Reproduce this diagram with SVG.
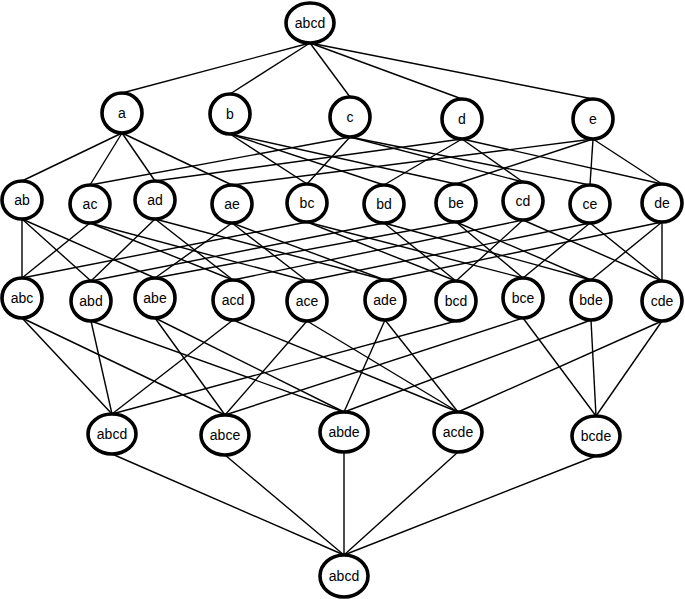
<svg xmlns="http://www.w3.org/2000/svg" width="685" height="599" viewBox="0 0 685 599">
<style>
.n ellipse{fill:#fff;stroke:#000;stroke-width:3.6}
.n text{font-family:"Liberation Sans",Arial,sans-serif;font-size:14px;fill:#000;text-anchor:middle}
#edges line{stroke:#000;stroke-width:1.4}
</style>
<rect width="685" height="599" fill="#fff"/>
<g id="edges">
<line x1="310" y1="43" x2="122" y2="93"/>
<line x1="310" y1="43" x2="230" y2="94"/>
<line x1="310" y1="43" x2="350" y2="97"/>
<line x1="310" y1="43" x2="462" y2="99"/>
<line x1="310" y1="43" x2="593" y2="99"/>
<line x1="122" y1="133" x2="22" y2="181"/>
<line x1="122" y1="133" x2="90" y2="185"/>
<line x1="122" y1="133" x2="155" y2="181"/>
<line x1="122" y1="133" x2="232" y2="185"/>
<line x1="230" y1="134" x2="307" y2="184"/>
<line x1="230" y1="134" x2="384" y2="185"/>
<line x1="230" y1="134" x2="456" y2="184"/>
<line x1="350" y1="137" x2="90" y2="185"/>
<line x1="350" y1="137" x2="307" y2="184"/>
<line x1="350" y1="137" x2="523" y2="182"/>
<line x1="350" y1="137" x2="590" y2="185"/>
<line x1="462" y1="139" x2="155" y2="181"/>
<line x1="462" y1="139" x2="384" y2="185"/>
<line x1="462" y1="139" x2="523" y2="182"/>
<line x1="462" y1="139" x2="662" y2="184"/>
<line x1="593" y1="139" x2="232" y2="185"/>
<line x1="593" y1="139" x2="456" y2="184"/>
<line x1="593" y1="139" x2="590" y2="185"/>
<line x1="593" y1="139" x2="662" y2="184"/>
<line x1="22" y1="219" x2="22" y2="278"/>
<line x1="22" y1="219" x2="91" y2="281"/>
<line x1="22" y1="219" x2="155" y2="278"/>
<line x1="90" y1="223" x2="22" y2="278"/>
<line x1="90" y1="223" x2="233" y2="280"/>
<line x1="90" y1="223" x2="307" y2="281"/>
<line x1="155" y1="219" x2="91" y2="281"/>
<line x1="155" y1="219" x2="233" y2="280"/>
<line x1="155" y1="219" x2="385" y2="280"/>
<line x1="232" y1="223" x2="155" y2="278"/>
<line x1="232" y1="223" x2="307" y2="281"/>
<line x1="232" y1="223" x2="385" y2="280"/>
<line x1="307" y1="222" x2="22" y2="278"/>
<line x1="307" y1="222" x2="456" y2="281"/>
<line x1="307" y1="222" x2="523" y2="278"/>
<line x1="384" y1="223" x2="91" y2="281"/>
<line x1="384" y1="223" x2="456" y2="281"/>
<line x1="384" y1="223" x2="591" y2="280"/>
<line x1="456" y1="222" x2="155" y2="278"/>
<line x1="456" y1="222" x2="523" y2="278"/>
<line x1="456" y1="222" x2="591" y2="280"/>
<line x1="523" y1="220" x2="233" y2="280"/>
<line x1="523" y1="220" x2="456" y2="281"/>
<line x1="523" y1="220" x2="662" y2="281"/>
<line x1="590" y1="223" x2="307" y2="281"/>
<line x1="590" y1="223" x2="523" y2="278"/>
<line x1="590" y1="223" x2="662" y2="281"/>
<line x1="662" y1="222" x2="385" y2="280"/>
<line x1="662" y1="222" x2="591" y2="280"/>
<line x1="662" y1="222" x2="662" y2="281"/>
<line x1="22" y1="318" x2="112" y2="414"/>
<line x1="22" y1="318" x2="225" y2="415"/>
<line x1="91" y1="321" x2="112" y2="414"/>
<line x1="91" y1="321" x2="344" y2="412"/>
<line x1="155" y1="318" x2="225" y2="415"/>
<line x1="155" y1="318" x2="344" y2="412"/>
<line x1="233" y1="320" x2="112" y2="414"/>
<line x1="233" y1="320" x2="458" y2="412"/>
<line x1="307" y1="321" x2="225" y2="415"/>
<line x1="307" y1="321" x2="458" y2="412"/>
<line x1="385" y1="320" x2="344" y2="412"/>
<line x1="385" y1="320" x2="458" y2="412"/>
<line x1="456" y1="321" x2="112" y2="414"/>
<line x1="523" y1="318" x2="225" y2="415"/>
<line x1="523" y1="318" x2="596" y2="416"/>
<line x1="591" y1="320" x2="344" y2="412"/>
<line x1="591" y1="320" x2="596" y2="416"/>
<line x1="662" y1="321" x2="458" y2="412"/>
<line x1="662" y1="321" x2="596" y2="416"/>
<line x1="112" y1="454" x2="344" y2="555"/>
<line x1="225" y1="455" x2="344" y2="555"/>
<line x1="344" y1="452" x2="344" y2="555"/>
<line x1="458" y1="452" x2="344" y2="555"/>
<line x1="596" y1="456" x2="344" y2="555"/>
</g>
<g id="n-top" class="n"><ellipse cx="310" cy="23" rx="24" ry="20"/><text x="310" y="28">abcd</text></g>
<g id="n-a" class="n"><ellipse cx="122" cy="113" rx="20" ry="20"/><text x="122" y="118">a</text></g>
<g id="n-b" class="n"><ellipse cx="230" cy="114" rx="20" ry="20"/><text x="230" y="119">b</text></g>
<g id="n-c" class="n"><ellipse cx="350" cy="117" rx="20" ry="20"/><text x="350" y="122">c</text></g>
<g id="n-d" class="n"><ellipse cx="462" cy="119" rx="20" ry="20"/><text x="462" y="124">d</text></g>
<g id="n-e" class="n"><ellipse cx="593" cy="119" rx="20" ry="20"/><text x="593" y="124">e</text></g>
<g id="n-ab" class="n"><ellipse cx="22" cy="200" rx="20" ry="19"/><text x="22" y="205">ab</text></g>
<g id="n-ac" class="n"><ellipse cx="90" cy="204" rx="20" ry="19"/><text x="90" y="209">ac</text></g>
<g id="n-ad" class="n"><ellipse cx="155" cy="200" rx="20" ry="19"/><text x="155" y="205">ad</text></g>
<g id="n-ae" class="n"><ellipse cx="232" cy="204" rx="20" ry="19"/><text x="232" y="209">ae</text></g>
<g id="n-bc" class="n"><ellipse cx="307" cy="203" rx="20" ry="19"/><text x="307" y="208">bc</text></g>
<g id="n-bd" class="n"><ellipse cx="384" cy="204" rx="20" ry="19"/><text x="384" y="209">bd</text></g>
<g id="n-be" class="n"><ellipse cx="456" cy="203" rx="20" ry="19"/><text x="456" y="208">be</text></g>
<g id="n-cd" class="n"><ellipse cx="523" cy="201" rx="20" ry="19"/><text x="523" y="206">cd</text></g>
<g id="n-ce" class="n"><ellipse cx="590" cy="204" rx="20" ry="19"/><text x="590" y="209">ce</text></g>
<g id="n-de" class="n"><ellipse cx="662" cy="203" rx="20" ry="19"/><text x="662" y="208">de</text></g>
<g id="n-abc" class="n"><ellipse cx="22" cy="298" rx="20" ry="20"/><text x="22" y="303">abc</text></g>
<g id="n-abd" class="n"><ellipse cx="91" cy="301" rx="20" ry="20"/><text x="91" y="306">abd</text></g>
<g id="n-abe" class="n"><ellipse cx="155" cy="298" rx="20" ry="20"/><text x="155" y="303">abe</text></g>
<g id="n-acd" class="n"><ellipse cx="233" cy="300" rx="20" ry="20"/><text x="233" y="305">acd</text></g>
<g id="n-ace" class="n"><ellipse cx="307" cy="301" rx="20" ry="20"/><text x="307" y="306">ace</text></g>
<g id="n-ade" class="n"><ellipse cx="385" cy="300" rx="20" ry="20"/><text x="385" y="305">ade</text></g>
<g id="n-bcd" class="n"><ellipse cx="456" cy="301" rx="20" ry="20"/><text x="456" y="306">bcd</text></g>
<g id="n-bce" class="n"><ellipse cx="523" cy="298" rx="20" ry="20"/><text x="523" y="303">bce</text></g>
<g id="n-bde" class="n"><ellipse cx="591" cy="300" rx="20" ry="20"/><text x="591" y="305">bde</text></g>
<g id="n-cde" class="n"><ellipse cx="662" cy="301" rx="20" ry="20"/><text x="662" y="306">cde</text></g>
<g id="n-abcd" class="n"><ellipse cx="112" cy="434" rx="24" ry="20"/><text x="112" y="439">abcd</text></g>
<g id="n-abce" class="n"><ellipse cx="225" cy="435" rx="24" ry="20"/><text x="225" y="440">abce</text></g>
<g id="n-abde" class="n"><ellipse cx="344" cy="432" rx="24" ry="20"/><text x="344" y="437">abde</text></g>
<g id="n-acde" class="n"><ellipse cx="458" cy="432" rx="24" ry="20"/><text x="458" y="437">acde</text></g>
<g id="n-bcde" class="n"><ellipse cx="596" cy="436" rx="24" ry="20"/><text x="596" y="441">bcde</text></g>
<g id="n-bottom" class="n"><ellipse cx="344" cy="576" rx="24" ry="21"/><text x="344" y="581">abcd</text></g>
</svg>
